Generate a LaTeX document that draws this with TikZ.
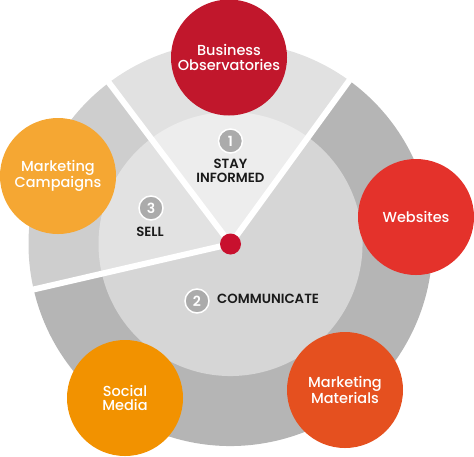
\documentclass[tikz,border=0pt]{standalone}
\usepackage{fontspec}
\setmainfont{Poppins}
\newfontfamily\semib{Poppins SemiBold}
\newfontfamily\medium{Poppins Medium}
\definecolor{ringA}{HTML}{E1E1E1}
\definecolor{innerA}{HTML}{EDEDED}
\definecolor{ringC}{HTML}{CECECE}
\definecolor{innerC}{HTML}{E2E2E2}
\definecolor{ringB}{HTML}{B5B5B5}
\definecolor{innerB}{HTML}{D6D6D6}
\definecolor{numgray}{HTML}{ABABAB}
\definecolor{bizred}{HTML}{C1172C}
\definecolor{webred}{HTML}{E4322B}
\definecolor{matorange}{HTML}{E5501F}
\definecolor{socorange}{HTML}{F29200}
\definecolor{campyellow}{HTML}{F5A733}
\definecolor{dotred}{HTML}{C8102E}
\definecolor{labblack}{HTML}{1A1A1A}
\begin{document}
\begin{tikzpicture}[x=1pt,y=-1pt,
  bub/.style={circle,minimum size=116pt,inner sep=0pt,text=white,align=center,
    font=\medium\fontsize{14.5}{14.5}\selectfont},
  num/.style={circle,fill=numgray,draw=white,line width=1.5pt,minimum size=24pt,
    inner sep=0pt,text=white,font=\semib\fontsize{14}{14}\selectfont},
  lab/.style={text=labblack,align=center,inner sep=0pt,
    font=\semib\fontsize{13.3}{13.5}\selectfont},
  sepline/.style={draw=white,line width=6pt}]
\useasboundingbox (0,0) rectangle (474,456);
\coordinate (C) at (230.5,244);
\def\R{202}
\def\r{132}
% outer ring sectors
\fill[ringA] (C) -- ++(-54:\R) arc[start angle=-54,end angle=-127,radius=\R] -- cycle;
\fill[ringC] (C) -- ++(-127:\R) arc[start angle=-127,end angle=-193,radius=\R] -- cycle;
\fill[ringB] (C) -- ++(-193:\R) arc[start angle=-193,end angle=-414,radius=\R] -- cycle;
% inner circle sectors
\fill[innerA] (C) -- ++(-54:\r) arc[start angle=-54,end angle=-127,radius=\r] -- cycle;
\fill[innerC] (C) -- ++(-127:\r) arc[start angle=-127,end angle=-193,radius=\r] -- cycle;
\fill[innerB] (C) -- ++(-193:\r) arc[start angle=-193,end angle=-414,radius=\r] -- cycle;
% separators
\path (C) ++(-127:204) coordinate (eA);
\path (C) ++(-54:204) coordinate (eB);
\path (C) ++(-193:204) coordinate (eC);
\draw[sepline] (C) -- (eA);
\draw[sepline] (C) -- (eB);
\draw[sepline] (C) -- (eC);
\node[circle,fill=dotred,minimum size=21pt,inner sep=0pt] (dot) at (C) {};
% bubbles
\node[bub,fill=bizred] (biz) at (229,57.5) {Business\\Observatories};
\node[bub,fill=campyellow] (camp) at (58,176) {Marketing\\Campaigns};
\node[bub,fill=webred] (web) at (416,217) {Websites};
\node[bub,fill=socorange] (soc) at (125,398) {Social\\Media};
\node[bub,fill=matorange] (mat) at (345,390) {Marketing\\Materials};
% steps
\node[num] (n1) at (230.5,141) {1};
\node[lab] (l1) at (230.5,171) {STAY\\INFORMED};
\node[num] (n3) at (151,208) {3};
\node[lab] (l3) at (150,232) {SELL};
\node[num] (n2) at (197,301) {2};
\node[lab,anchor=west] (l2) at (217,299) {COMMUNICATE};
\end{tikzpicture}
\end{document}
